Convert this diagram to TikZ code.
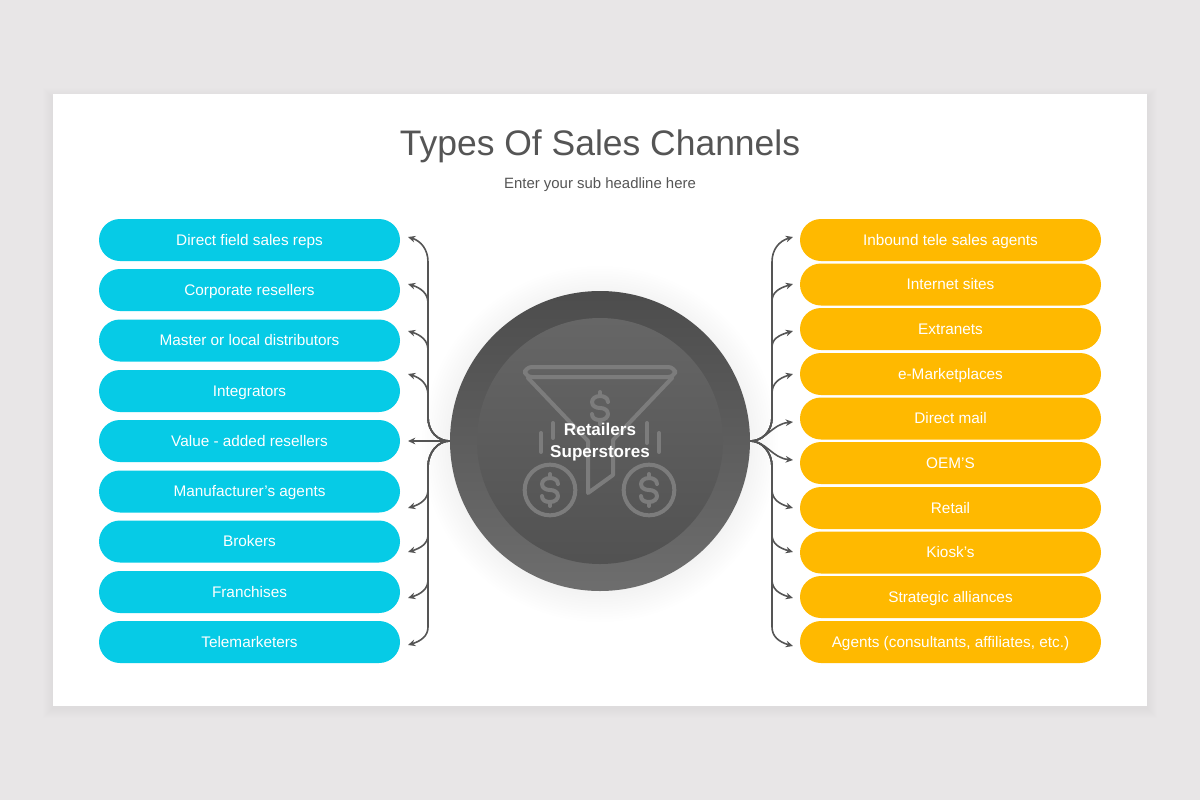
\documentclass[tikz,border=0pt]{standalone}
\usepackage{fontspec}
\setmainfont{Liberation Sans}
\usepackage{xcolor}
\usetikzlibrary{arrows.meta}
\definecolor{pagegray}{HTML}{E8E6E7}
\definecolor{textgray}{HTML}{555555}
\definecolor{linegray}{HTML}{555555}
\definecolor{icongray}{HTML}{7C7C7C}
\definecolor{leftcyan}{HTML}{06CBE6}
\definecolor{rightamber}{HTML}{FFB900}
\tikzset{
    pill/.style={rounded corners=15.75pt, minimum width=225.75pt, minimum height=31.5pt,
        inner sep=0pt, text=white, text height=10.2pt, text depth=2.2pt,
        font=\fontsize{11.5}{13}\selectfont},
    channelline/.style={draw=linegray, line width=1.2pt, -{Stealth[length=5.5pt,width=5pt]}},
    iconline/.style={draw=icongray, line width=3pt, line cap=round, line join=round},
    dollar/.pic={
        \draw[iconline] (0,-16) -- (0,-12);
        \draw[iconline] (0,12) -- (0,16);
        \draw[iconline] (8,-6) .. controls (8,-10) and (4,-12) .. (0,-12)
            .. controls (-5,-12) and (-8,-9) .. (-8,-6)
            .. controls (-8,-2) and (-4,0) .. (0,0)
            .. controls (4,0) and (8,2) .. (8,6)
            .. controls (8,9) and (5,12) .. (0,12)
            .. controls (-5,12) and (-8,10) .. (-8,6);
    }
}

\begin{document}
\begin{tikzpicture}[x=0.75pt,y=-0.75pt]
    \useasboundingbox (0,0) rectangle (1200,800);
    % Fundo e cartao
    \fill[pagegray] (0,0) rectangle (1200,800);
    \foreach \r in {1,...,10}
        \fill[black,opacity=0.005] ({53-\r},{94-\r+4}) rectangle ({1147+\r},{706+\r+2});
    \fill[white] (53,94) rectangle (1147,706);
    % Titulos
    \node[text=textgray, text height=24.5pt, text depth=5.5pt, font=\fontsize{26.6}{32}\selectfont] (title) at (600,143) {Types Of Sales Channels};
    \node[text=textgray, text height=11pt, text depth=2.4pt, font=\fontsize{11.2}{13}\selectfont] (subtitle) at (600,183) {Enter your sub headline here};
    % Sombra do circulo
    \foreach \r in {1,...,12}
        \fill[black,opacity=0.005] (600,444) circle ({148+2.5*\r});
    % Circulo central
    \node[circle, minimum size=225pt, inner sep=0pt, top color=black!70, bottom color=black!57] (hub) at (600,441) {};
    \node[circle, minimum size=184.5pt, inner sep=0pt, top color=black!60, bottom color=black!68] (hubinner) at (hub) {};
    % Icone do funil
    \draw[iconline, rounded corners=5pt] (525,367) rectangle (675,377);
    \draw[iconline] (528,378) -- (588,441) -- (588,493) -- (613,475) -- (613,440) -- (672,378);
    \node[circle, iconline, minimum size=38pt, inner sep=0pt] (coinleft) at (550,490) {};
    \node[circle, iconline, minimum size=38pt, inner sep=0pt] (coinright) at (649,490) {};
    \pic at (600,408) {dollar};
    \pic at (coinleft) {dollar};
    \pic at (coinright) {dollar};
    \foreach \xbar/\ya/\yb in {553/423/438, 541/433/452, 647/423/443, 659/433/452}
        \draw[iconline] (\xbar,\ya) -- (\xbar,\yb);
    \node[text=white, align=center, font=\fontsize{12.8}{16.5}\selectfont\bfseries] (hubtext) at (600,442) {Retailers\\Superstores};
    % Canais da esquerda
    \foreach \n/\txt/\ypill/\ytip in {
        la/{Direct field sales reps}/240/237,
        lb/{Corporate resellers}/290/284,
        lc/{Master or local distributors}/340.5/331,
        ld/{Integrators}/391/374,
        le/{Value - added resellers}/441/441,
        lf/{Manufacturer's agents}/491.5/508,
        lg/{Brokers}/541.5/552,
        lh/{Franchises}/592/598,
        li/{Telemarketers}/642/645}{
        \node[pill, fill=leftcyan] (\n) at (249.5,\ypill) {\txt};
        \coordinate (\n tip) at (408,\ytip);
    }
    % Canais da direita
    \foreach \n/\txt/\ypill/\ytip in {
        ra/{Inbound tele sales agents}/240/237,
        rb/{Internet sites}/284.5/284,
        rc/{Extranets}/329/331,
        rd/{e-Marketplaces}/374/374,
        re/{Direct mail}/418.5/422,
        rf/{OEM'S}/463/460,
        rg/{Retail}/508/508,
        rh/{Kiosk's}/552.5/552,
        ri/{Strategic alliances}/597/598,
        rj/{Agents (consultants, affiliates, etc.)}/642/646}{
        \node[pill, fill=rightamber] (\n) at (950.5,\ypill) {\txt};
        \coordinate (\n tip) at (793,\ytip);
    }
    % Ligacoes da esquerda
    \draw[channelline] (hub.west) -- (letip);
    \foreach \n/\ytip/\ybr in {la/237/262, lb/284/303, lc/331/350, ld/374/395}
        \draw[channelline] (hub.west) .. controls (438,441) and (428,432) .. (428,417) -- (428,\ybr)
            .. controls (428,{\ybr-(\ybr-\ytip)*.5}) and (421,{\ytip+4}) .. (\n tip);
    \foreach \n/\ytip/\ybr in {lf/508/490, lg/552/535, lh/598/580, li/645/627}
        \draw[channelline] (hub.west) .. controls (438,441) and (428,452) .. (428,467) -- (428,\ybr)
            .. controls (428,{\ybr+(\ytip-\ybr)*.5}) and (421,{\ytip-4}) .. (\n tip);
    % Ligacoes da direita
    \draw[channelline] (hub.east) .. controls (766,441) and (772,424) .. (retip);
    \draw[channelline] (hub.east) .. controls (766,441) and (772,458) .. (rftip);
    \foreach \n/\ytip/\ybr in {ra/237/262, rb/284/301, rc/331/347, rd/374/393}
        \draw[channelline] (hub.east) .. controls (762,441) and (772,432) .. (772,417) -- (772,\ybr)
            .. controls (772,{\ybr-(\ybr-\ytip)*.5}) and (779,{\ytip+4}) .. (\n tip);
    \foreach \n/\ytip/\ybr in {rg/508/490, rh/552/535, ri/598/580, rj/646/627}
        \draw[channelline] (hub.east) .. controls (762,441) and (772,452) .. (772,467) -- (772,\ybr)
            .. controls (772,{\ybr+(\ytip-\ybr)*.5}) and (779,{\ytip-4}) .. (\n tip);
\end{tikzpicture}
\end{document}
